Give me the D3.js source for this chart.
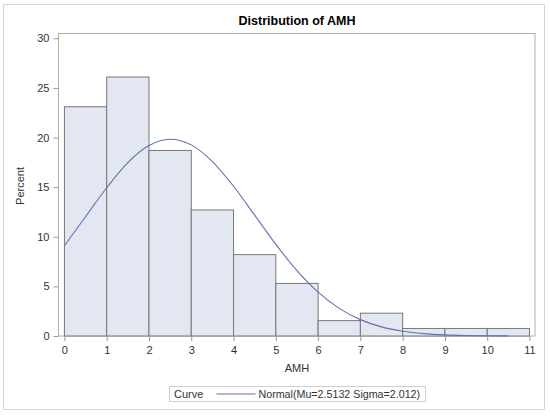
<!DOCTYPE html>
<meta charset="utf-8">
<style>
    body { margin: 0; background: #fff; }
    text { font-family: "Liberation Sans", Arial, sans-serif; fill: #333; }
    .title { font-weight: bold; font-size: 12.5px; fill: #000; }
    .tick text { font-size: 11px; }
    .axis path { stroke: #9a9a9a; }
    .axis line { stroke: #9a9a9a; }
    .bars rect { fill: #e3e7f1; stroke: #777; stroke-width: 1px; }
    .curve { fill: none; stroke: #6470b2; stroke-width: 1.1px; }
</style>

<body>
    <script src="https://d3js.org/d3.v7.min.js"></script>
    <script>
        // histogram bins (AMH) and their percent
        var binStart = [0, 1, 2, 3, 4, 5, 6, 7, 8, 9, 10];
        var binEnd = [1, 2, 3, 4, 5, 6, 7, 8, 9, 10, 11];
        var percent = [23.1, 26.1, 18.7, 12.7, 8.2, 5.3, 1.55, 2.3, 0.76, 0.76, 0.76];

        // fitted normal curve
        var curveX = [0, 0.5, 1, 1.5, 2, 2.5, 3, 3.5, 4, 4.5, 5, 5.5, 6, 6.5, 7, 7.5, 8, 8.5, 9, 9.5, 10, 10.5];
        var curveY = [9.09, 12.02, 14.94, 17.47, 19.19, 19.83, 19.26, 17.58, 15.09, 12.18, 9.24, 6.59, 4.42, 2.78, 1.65, 0.92, 0.48, 0.24, 0.11, 0.05, 0.02, 0.01];

        var xTicks = [0, 1, 2, 3, 4, 5, 6, 7, 8, 9, 10, 11];
        var yTicks = [0, 5, 10, 15, 20, 25, 30];

        var W = 550, H = 416;
        var svg = d3.select("body").append("svg").attr("width", W).attr("height", H);

        // outer border
        svg.append("rect").attr("x", 3.5).attr("y", 4.5).attr("width", 541).attr("height", 405)
            .attr("fill", "#fff").attr("stroke", "#d6d6d6");

        var x = d3.scaleLinear().domain([-0.14, 11.13]).range([58.5, 535]);
        var y = d3.scaleLinear().domain([0, 30]).range([336, 38.3]);

        svg.append("text").attr("class", "title")
            .attr("x", 297).attr("y", 25).attr("text-anchor", "middle")
            .text("Distribution of AMH");

        // plot frame
        svg.append("rect").attr("x", 58.5).attr("y", 33.5).attr("width", 476.5).attr("height", 302.5)
            .attr("fill", "none").attr("stroke", "#b0b0b0");

        var bins = binStart.map((d, i) => ({ x0: d, x1: binEnd[i], v: percent[i] }));

        svg.append("g").attr("class", "bars")
            .selectAll("rect").data(bins).enter().append("rect")
            .attr("x", d => x(d.x0))
            .attr("y", d => y(d.v))
            .attr("width", d => x(d.x1) - x(d.x0))
            .attr("height", d => y(0) - y(d.v));

        var line = d3.line()
            .x(d => x(d[0]))
            .y(d => y(d[1]))
            .curve(d3.curveMonotoneX);

        svg.append("path").attr("class", "curve")
            .attr("d", line(curveX.map((d, i) => [d, curveY[i]])));

        var xAxis = svg.append("g").attr("class", "axis")
            .attr("transform", "translate(0,336)")
            .call(d3.axisBottom(x).tickValues(xTicks).tickSize(5).tickSizeOuter(0).tickPadding(5));
        xAxis.select(".domain").remove();

        var yAxis = svg.append("g").attr("class", "axis")
            .attr("transform", "translate(58.5,0)")
            .call(d3.axisLeft(y).tickValues(yTicks).tickSize(5).tickSizeOuter(0).tickPadding(4));
        yAxis.select(".domain").remove();

        svg.selectAll(".tick text").style("font-family", "'Liberation Sans', Arial, sans-serif").attr("fill", "#333");

        svg.append("text").attr("x", 297).attr("y", 372).attr("text-anchor", "middle")
            .style("font-size", "11px").text("AMH");

        svg.append("text").attr("transform", "translate(24,186) rotate(-90)")
            .attr("text-anchor", "middle").style("font-size", "11px").text("Percent");

        // legend
        var lg = svg.append("g").attr("transform", "translate(169.5,386.5)");
        lg.append("rect").attr("width", 256).attr("height", 15)
            .attr("fill", "#fff").attr("stroke", "#cfcfcf");
        lg.append("text").attr("x", 4.5).attr("y", 11.5).style("font-size", "11px").text("Curve");
        lg.append("line").attr("x1", 47).attr("x2", 86).attr("y1", 7.5).attr("y2", 7.5)
            .attr("stroke", "#6470b2").attr("stroke-width", 1.1);
        lg.append("text").attr("x", 89).attr("y", 11.5).style("font-size", "10.7px")
            .text("Normal(Mu=2.5132 Sigma=2.012)");
    </script>
</body>

</html>
